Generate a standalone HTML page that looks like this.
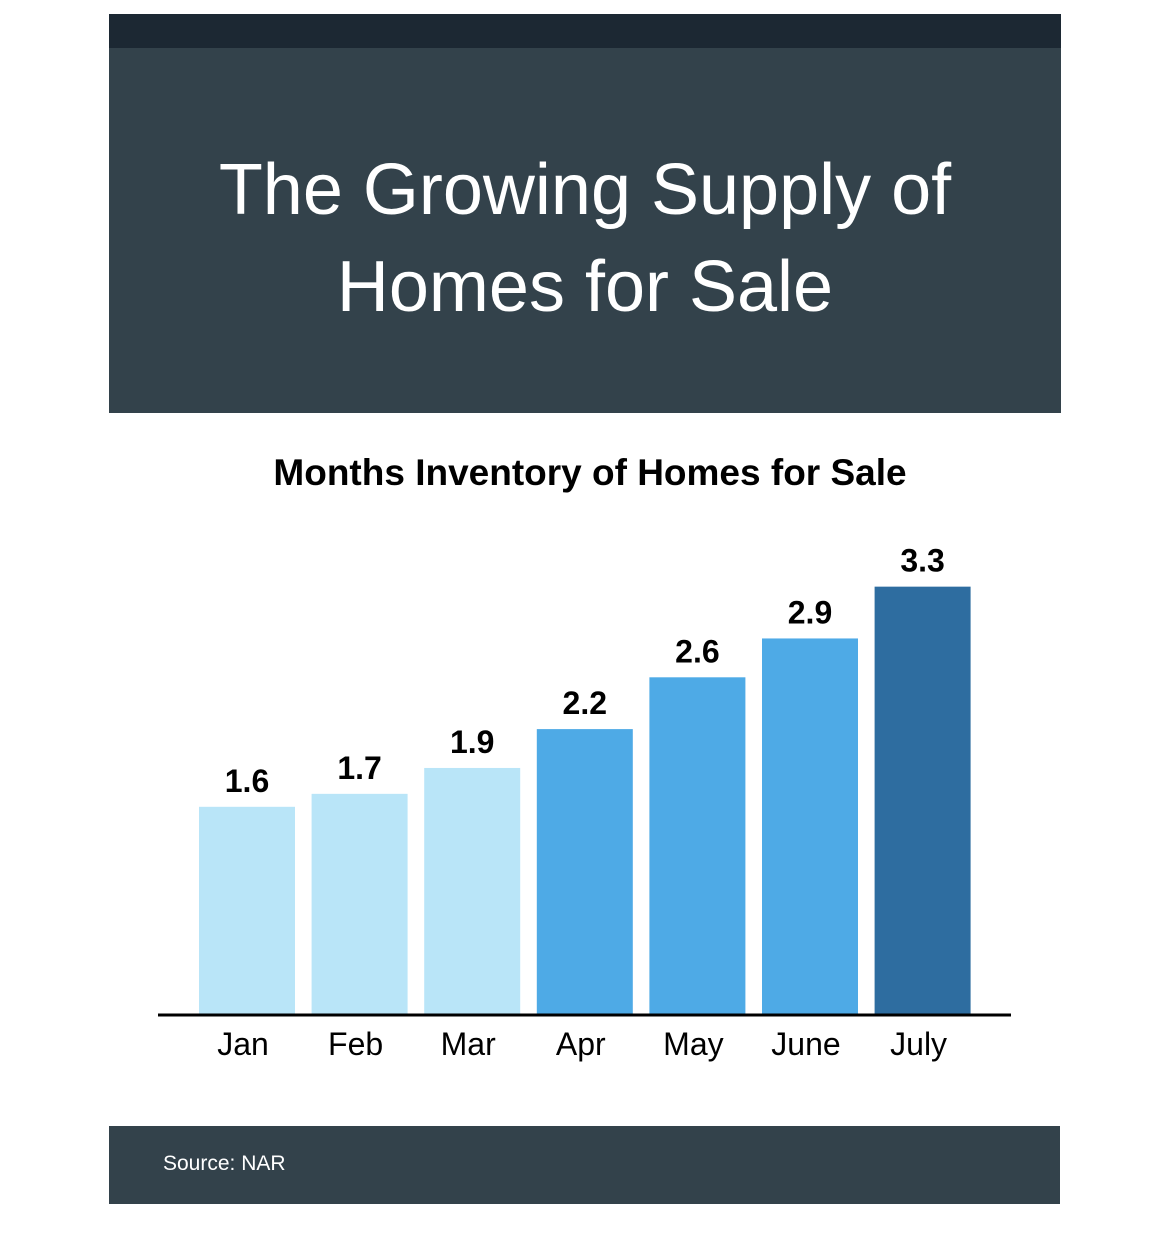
<!DOCTYPE html>
<html><head><meta charset="utf-8">
<style>
body{margin:0;width:1170px;height:1239px;background:#fff;position:relative;font-family:"Liberation Sans",sans-serif;overflow:hidden}
#header{position:absolute;left:109px;top:14px;width:952px;height:399px;background:#33424b}
#stripe{position:absolute;left:0;top:0;width:952px;height:34px;background:#1c2833}
#title{position:absolute;left:0;width:952px;top:128px;text-align:center;color:#fff;font-size:72px;line-height:97px;font-weight:normal}
#footer{position:absolute;left:109px;top:1126px;width:951px;height:78px;background:#33424b}
#source{position:absolute;left:54px;top:26px;color:#fff;font-size:21px}
#chart{position:absolute;left:0;top:0}
</style></head><body>
<div id="header"><div id="stripe"></div>
<div id="title">The Growing Supply of<br>Homes for Sale</div></div>
<svg id="chart" width="1170" height="1239">
<text x="590" y="485" text-anchor="middle" font-size="37" font-weight="bold" font-family="Liberation Sans, sans-serif" fill="#000">Months Inventory of Homes for Sale</text>
<g id="bars"></g>
<line x1="158" x2="1011" y1="1015" y2="1015" stroke="#000" stroke-width="3"/>
</svg>
<div id="footer"><div id="source">Source: NAR</div></div>
<script>
const categories=["Jan","Feb","Mar","Apr","May","June","July"];
const values=[1.6,1.7,1.9,2.2,2.6,2.9,3.3];
const valueLabels=["1.6","1.7","1.9","2.2","2.6","2.9","3.3"];
const colors=["#b9e5f8","#b9e5f8","#b9e5f8","#4eaae6","#4eaae6","#4eaae6","#2e6da0"];
const base=1014, scale=129.5, x0=199, step=112.6, bw=96;
const y=v=>base-v*scale;
const x=i=>x0+i*step;
const g=document.getElementById('bars');
const ns="http://www.w3.org/2000/svg";
categories.forEach((c,i)=>{
 const r=document.createElementNS(ns,'rect');
 
 
 r.setAttribute('x',x(i));r.setAttribute('y',y(values[i]));
 r.setAttribute('width',bw);r.setAttribute('height',base-y(values[i]));
 r.setAttribute('fill',colors[i]);g.appendChild(r);
 const t=document.createElementNS(ns,'text');
 
 
 t.setAttribute('x',x(i)+bw/2);t.setAttribute('y',y(values[i])-15);
 t.setAttribute('text-anchor','middle');t.setAttribute('font-size','32');t.setAttribute('font-weight','bold');
 t.setAttribute('font-family','Liberation Sans, sans-serif');
 t.textContent=valueLabels[i];g.appendChild(t);
 const m=document.createElementNS(ns,'text');
 
 
 m.setAttribute('x',x(i)+bw/2-4);m.setAttribute('y',1055);
 m.setAttribute('text-anchor','middle');m.setAttribute('font-size','32');
 m.setAttribute('font-family','Liberation Sans, sans-serif');
 m.textContent=c;g.appendChild(m);
});
</script>
</body></html>
